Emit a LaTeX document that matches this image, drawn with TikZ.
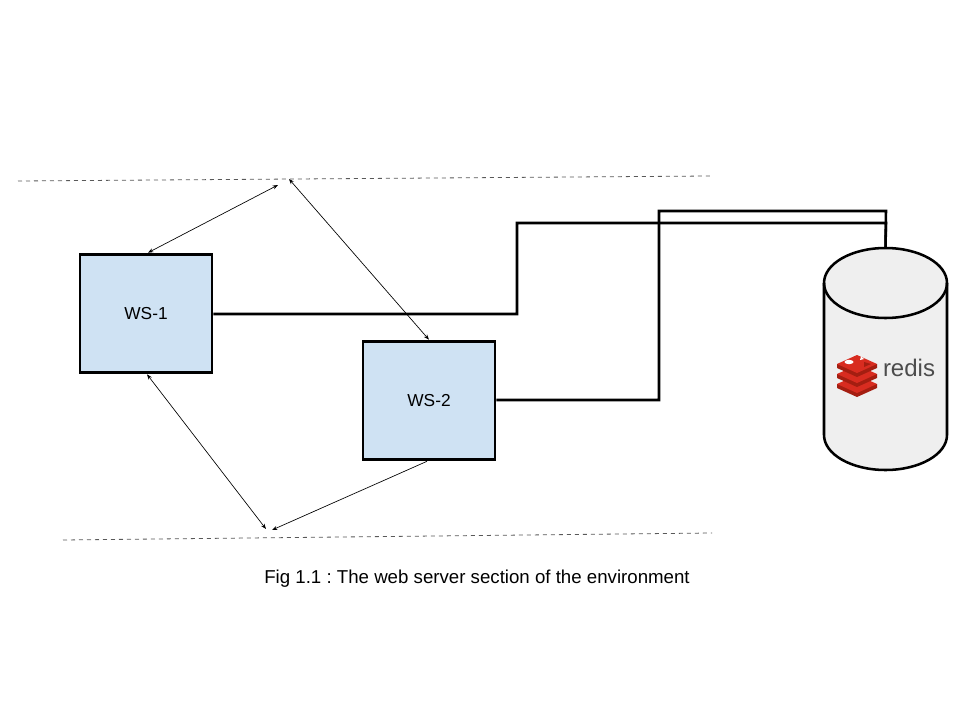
\documentclass[tikz,border=0pt]{standalone}
\usepackage{fontspec}
\setmainfont{Liberation Sans}
\usetikzlibrary{arrows.meta,calc}
\definecolor{boxblue}{HTML}{CFE2F3}
\definecolor{cylgray}{HTML}{EFEFEF}
\definecolor{redisred}{HTML}{D82C20}
\definecolor{redisdark}{HTML}{A41E11}
\frenchspacing
\begin{document}
\begin{tikzpicture}[x=0.75pt,y=-0.75pt,
  wsbox/.style={draw=black,line width=2.2pt,fill=boxblue,minimum width=99pt,minimum height=89pt,inner sep=0pt,font=\fontsize{13}{15}\selectfont},
  link/.style={line width=1.9pt,line join=miter},
  thin/.style={line width=0.5pt,{Stealth[length=4pt,width=3pt]}-{Stealth[length=4pt,width=3pt]}},
  guide/.style={dashed,gray!70!black,line width=0.6pt}]
\useasboundingbox (0,0) rectangle (960,720);
\fill[white] (0,0) rectangle (960,720);
\draw[guide] (18,181) -- (712,176);
\draw[guide] (63,540) -- (712,533);
\node[wsbox] (ws1) at (146,313.5) {WS-1};
\node[wsbox] (ws2) at (429,400.5) {WS-2};
\coordinate (t1) at (278,185);
\coordinate (t2) at (289,179);
\coordinate (b1) at (266,529);
\coordinate (b2) at (272,530);
\draw[thin] ($(ws1.north)+(2,0)$) -- (t1);
\draw[thin] (t2) -- (ws2.north);
\draw[thin] ($(ws1.south)+(1,0)$) -- (b1);
\draw[line width=0.5pt,-{Stealth[length=4pt,width=3pt]}] ($(ws2.south)+(-2,0)$) -- (b2);
% cylinder
\coordinate (db) at (885.5,248);
\draw[line width=1.9pt,fill=cylgray] (824,283) -- (824,435) arc[start angle=180,end angle=0,x radius=61.5,y radius=35] -- (947,283) arc[start angle=0,end angle=-180,x radius=61.5,y radius=35];
\draw[line width=1.9pt] (824,283) arc[start angle=180,end angle=0,x radius=61.5,y radius=35];
\draw[link] (ws1.east |- 0,314) -- (517,314) -- (517,223) -- (886,223) -- (db);
\draw[link] (ws2.east |- 0,400) -- (659,400) -- (659,211) -- (886,211) -- (db);
% redis logo
\foreach \dy in {20,10,0}{
  \fill[redisdark] (837,368+\dy) -- (857,377+\dy) -- (877,368+\dy) -- (877,364+\dy) -- (837,364+\dy) -- cycle;
  \fill[redisred] (837,364+\dy) -- (857,355+\dy) -- (877,364+\dy) -- (857,373+\dy) -- cycle;
}
\fill[white] (849,362) ellipse[x radius=4.5,y radius=2.2];
\fill[white] (861,356.5) -- (864,359) -- (860,360) -- cycle;
\fill[redisdark] (864,362) -- (871,364) -- (864,367) -- cycle;
\node[font=\fontsize{18}{20}\selectfont,text=black!70] (rt) at (909,368) {redis};
\node[font=\fontsize{14}{16}\selectfont] (cap) at (477,579) {Fig 1.1 : The web server section of the environment};
\end{tikzpicture}
\end{document}
